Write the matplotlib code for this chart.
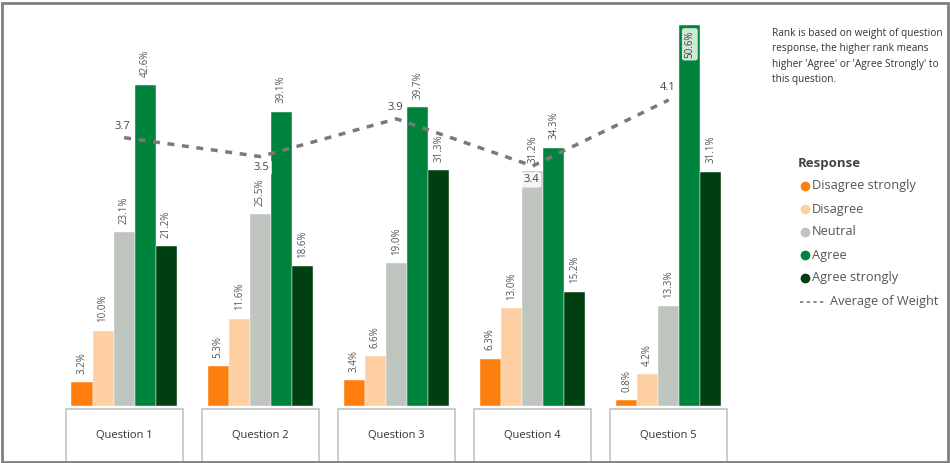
import numpy as np
import matplotlib.pyplot as plt
from matplotlib.patches import Rectangle
from matplotlib.lines import Line2D

plt.rcParams['font.family'] = ['Open Sans', 'DejaVu Sans']

questions = ["Question 1", "Question 2", "Question 3", "Question 4", "Question 5"]
responses = ["Disagree strongly", "Disagree", "Neutral", "Agree", "Agree strongly"]
disagree_strongly = [3.2, 5.3, 3.4, 6.3, 0.8]
disagree = [10.0, 11.6, 6.6, 13.0, 4.2]
neutral = [23.1, 25.5, 19.0, 31.2, 13.3]
agree = [42.6, 39.1, 39.7, 34.3, 50.6]
agree_strongly = [21.2, 18.6, 31.3, 15.2, 31.1]
avg_weight = [3.7, 3.5, 3.9, 3.4, 4.1]
note = ("Rank is based on weight of question\nresponse, the higher rank means\n"
        "higher 'Agree' or 'Agree Strongly' to\nthis question.")

colors = ['#ff7f0e', '#fdcfa3', '#bec4be', '#00843d', '#003f0f']
series = [disagree_strongly, disagree, neutral, agree, agree_strongly]

W, H = 950, 463
fig = plt.figure(figsize=(9.5, 4.63), dpi=100)

def px(x0, y0, x1, y1):
    # pixel box (top-left origin) -> figure fraction rect
    return [x0 / W, 1 - y1 / H, (x1 - x0) / W, (y1 - y0) / H]

ax = fig.add_axes(px(40, 25, 760, 406))
x = np.arange(len(questions))
bw = 0.1548
xlim = (-0.618, 4.67)

for i, (vals, c) in enumerate(zip(series, colors)):
    xs = x + (i - 2) * bw
    ax.bar(xs, vals, width=bw, color=c, edgecolor='white', linewidth=0.3, zorder=2)
    for xi, v in zip(xs, vals):
        if v > 48:
            ax.annotate(f"{v:.1f}%", (xi, v), xytext=(0, -4), textcoords='offset points',
                        rotation=90, ha='center', va='top', fontsize=7, color='#444444',
                        bbox=dict(boxstyle='round,pad=0.25', fc='#cfe8d6', ec='none'), zorder=5)
        else:
            ax.annotate(f"{v:.1f}%", (xi, v), xytext=(0, 6), textcoords='offset points',
                        rotation=90, ha='center', va='bottom', fontsize=7, color='#555555', zorder=5)

ax.set_xlim(*xlim)
ax.set_ylim(0, 50.6)
ax.axis('off')

ax2 = ax.twinx()
ax2.plot(x, avg_weight, color='#7a7a7a', linestyle=(0, (2, 2.2)), linewidth=2.5, zorder=3)
offsets = [(-1, 8), (1, -8), (-1, 8), (-1, -10), (-1, 9)]
for xi, v, off in zip(x, avg_weight, offsets):
    ax2.annotate(f"{v:.1f}", (xi, v), xytext=off, textcoords='offset points',
                 ha='center', va='center', fontsize=8, color='#444444',
                 bbox=dict(boxstyle='round,pad=0.2', fc='white', ec='none', alpha=0.85), zorder=6)
ax2.set_xlim(*xlim)
ax2.set_ylim(0.855, 4.895)
ax2.axis('off')

# category boxes under the bars
axc = fig.add_axes(px(40, 409, 760, 463))
axc.set_xlim(*xlim)
axc.set_ylim(0, 1)
axc.axis('off')
for xi, q in zip(x, questions):
    axc.add_patch(Rectangle((xi - 0.43, -0.2), 0.86, 1.2, fill=False, ec='#c8c8c8', lw=1.3,
                            clip_on=False))
    axc.text(xi, 0.5, q, ha='center', va='center', fontsize=8, color='#333333')

# note text
fig.text(772 / W, 1 - 28 / H, note, ha='left', va='top', fontsize=7.3, color='#333333',
         linespacing=1.55)

# legend
fig.text(798 / W, 1 - 163 / H, "Response", ha='left', va='center', fontsize=9.5,
         fontweight='bold', color='#444444')
rows = [186, 209, 232, 255, 278]
for r, lab, c in zip(rows, responses, colors):
    fig.add_artist(Line2D([805 / W], [1 - r / H], marker='o', markersize=6, color=c,
                          linestyle='none'))
    fig.text(812 / W, 1 - r / H, lab, ha='left', va='center', fontsize=9.2, color='#555555')
fig.add_artist(Line2D([800 / W, 826 / W], [1 - 302 / H] * 2, color='#7a7a7a',
                      linestyle=(0, (2, 2)), linewidth=1.2))
fig.text(830 / W, 1 - 302 / H, "Average of Weight", ha='left', va='center', fontsize=9.2,
         color='#555555')

# outer border
fig.add_artist(Rectangle((1.5 / W, 1.5 / H), 946 / W, 459 / H, transform=fig.transFigure,
                         fill=False, ec='#808080', lw=2))

fig.savefig("out.png", dpi=100)
